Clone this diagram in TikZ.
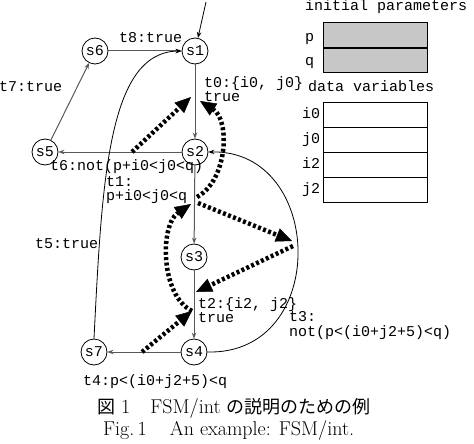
\documentclass[tikz,border=0pt]{standalone}
\usepackage{fontspec}
\newfontfamily\monof{Liberation Mono}
\newfontfamily\cjk{Noto Sans CJK JP}
\usetikzlibrary{arrows.meta}
\begin{document}
\begin{tikzpicture}[x=1pt,y=-1pt,
  state/.style={circle, draw=black, line width=0.8pt, minimum size=26pt, inner sep=0pt, fill=white, font=\monof\fontsize{15}{15}\selectfont},
  edge/.style={draw=black!65, line width=1pt, -{Stealth[length=6pt,width=4.5pt]}},
  curv/.style={draw=black, line width=0.8pt, -{Stealth[length=6pt,width=4.5pt]}},
  flow/.style={draw=black, line width=4.5pt, dash pattern=on 3pt off 2.4pt, -{Triangle[length=16pt,width=14pt,line width=0.5pt]}},
  lbl/.style={anchor=base west, inner sep=0pt, font=\monof\fontsize{15}{15}\selectfont},
  captext/.style={anchor=base west, inner sep=0pt, font=\fontsize{20}{20}\selectfont},
  cellA/.style={draw=black, line width=1pt, fill=black!22},
  cellB/.style={draw=black, line width=1pt}
]
\useasboundingbox (0,0) rectangle (474,444);

% states
\node[state] (s1) at (195,51) {s1};
\node[state] (s6) at (95,51) {s6};
\node[state] (s5) at (45,152) {s5};
\node[state] (s2) at (195,152) {s2};
\node[state] (s3) at (194,257) {s3};
\node[state] (s7) at (94,352) {s7};
\node[state] (s4) at (194,352) {s4};
\coordinate (init) at (206,2);

% transitions
\draw[curv] (init) -- (s1);
\draw[edge] (s6) -- (s1);
\draw[edge] (s1) -- (s2);
\draw[edge] (s2) -- (s5);
\draw[edge] (s5) -- (s6);
\draw[edge] (s2) -- (s3);
\draw[edge] (s3) -- (s4);
\draw[edge] (s4) -- (s7);
\draw[curv] (s7.north) .. controls (102,180) and (108,52) .. (s1.west);
\draw[curv] (s4.east) .. controls (330,355) and (325,150) .. (s2.east);

% transition labels
\node[lbl] (l8) at (119,43) {t8:true};
\node[lbl] (l7) at (-1,92) {t7:true};
\node[lbl] (l0a) at (204,88) {t0:\{i0, j0\}};
\node[lbl] (l0b) at (204,101) {true};
\node[lbl] (l6) at (50,170) {t6:not(p+i0<j0<q)};
\node[lbl] (l1a) at (106,186) {t1:};
\node[lbl] (l1b) at (106,200) {p+i0<j0<q};
\node[lbl] (l5) at (35,248) {t5:true};
\node[lbl] (l2a) at (198,308) {t2:\{i2, j2\}};
\node[lbl] (l2b) at (198,322) {true};
\node[lbl] (l3a) at (289,321) {t3:};
\node[lbl] (l3b) at (289,336) {not(p<(i0+j2+5)<q)};
\node[lbl] (l4) at (83,385) {t4:p<(i0+j2+5)<q};

% data flow arrows
\coordinate (a1) at (132,152);
\coordinate (b1) at (191,97);
\coordinate (a2) at (197,197);
\coordinate (b2) at (200,101);
\coordinate (a3) at (198,203);
\coordinate (b3) at (292,241);
\coordinate (a4) at (293,246);
\coordinate (b4) at (196,292);
\coordinate (a5) at (192,311);
\coordinate (b5) at (191,204);
\coordinate (a6) at (142,352);
\coordinate (b6) at (192,311);
\draw[flow] (a1) -- (b1);
\draw[flow] (a2) .. controls (228,180) and (230,120) .. (b2);
\draw[flow] (a3) -- (b3);
\draw[flow] (a4) -- (b4);
\draw[flow] (a5) .. controls (160,295) and (160,225) .. (b5);
\draw[flow] (a6) -- (b6);

% parameter table
\node[lbl] (tip) at (305,11) {initial parameters};
\draw[cellA] (323,23) rectangle (427,73);
\draw[line width=1.6pt] (323,48) -- (427,48);
\node[lbl] (lp) at (305,42) {p};
\node[lbl] (lq) at (305,66) {q};

\node[lbl] (tdv) at (308,92) {data variables};
\draw[cellB] (323,102) rectangle (427,202);
\draw[cellB] (323,127) -- (427,127);
\draw[cellB] (323,152) -- (427,152);
\draw[cellB] (323,177) -- (427,177);
\node[lbl] (li0) at (302,118) {i0};
\node[lbl] (lj0) at (302,143) {j0};
\node[lbl] (li2) at (302,168) {i2};
\node[lbl] (lj2) at (302,193) {j2};

% captions
\node[captext] (capj) at (97,413) {{\cjk\fontsize{18}{18}\selectfont 図}~1\quad FSM/int {\cjk\fontsize{18}{18}\selectfont の説明のための例}};
\node[captext] (cape) at (103,435) {Fig.\,1\hspace{1.15em}An example: FSM/int.};
\end{tikzpicture}
\end{document}
